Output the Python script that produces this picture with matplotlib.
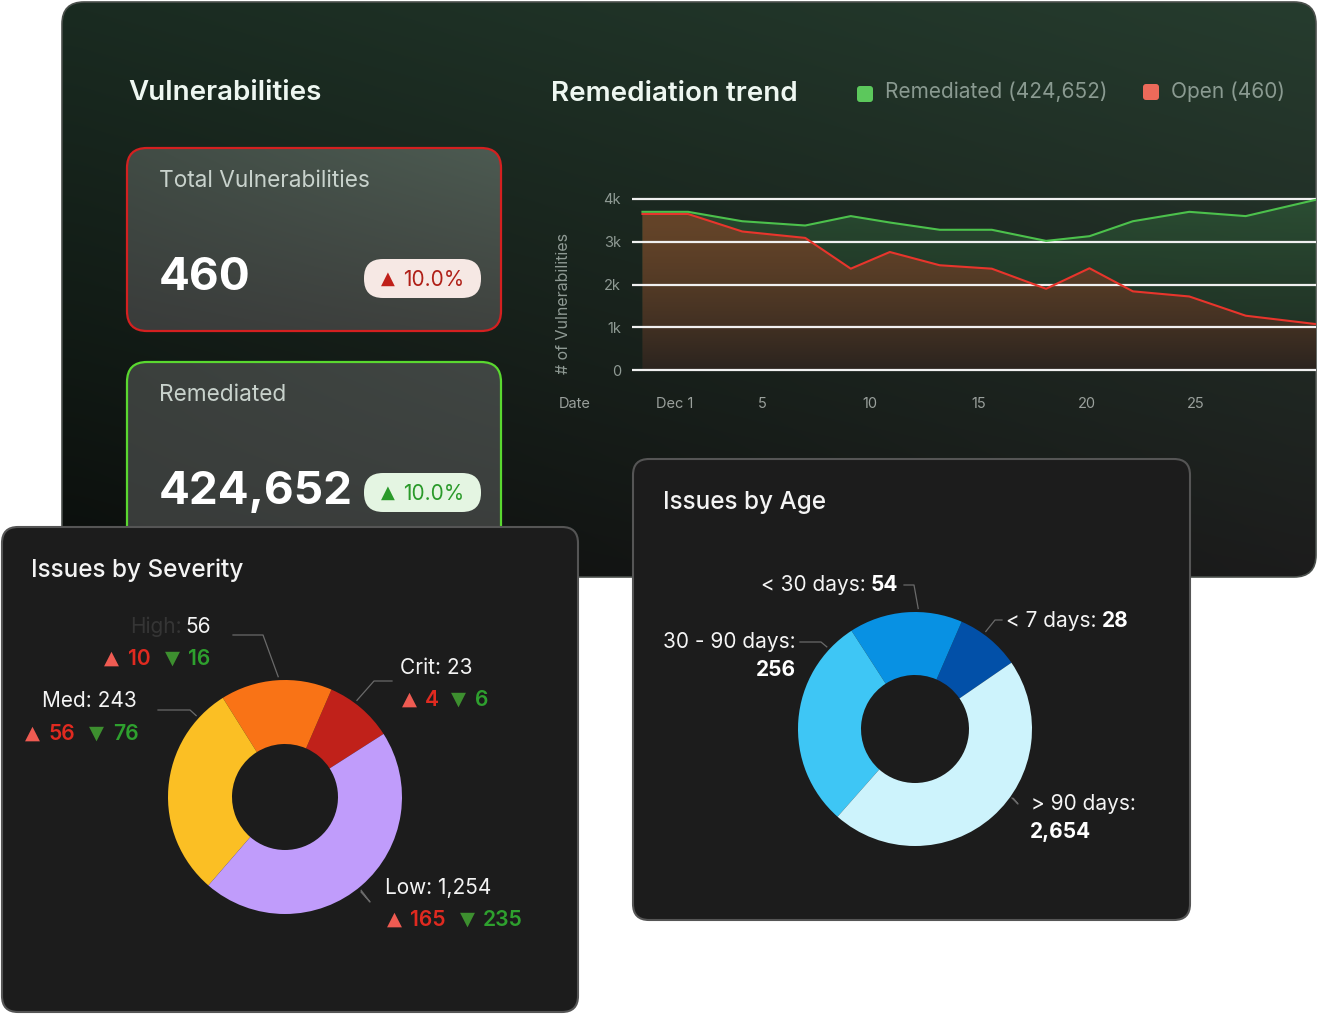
import numpy as np
import matplotlib
matplotlib.use('Agg')
import matplotlib.pyplot as plt
from matplotlib.patches import FancyBboxPatch, Polygon
from matplotlib.colors import to_rgb

W, H = 1330, 1014
plt.rcParams['font.family'] = ['Inter', 'DejaVu Sans']

# ---------------- data ----------------
trend_days = [-0.5, 1.6, 4.1, 7.0, 9.1, 10.9, 13.2, 15.6, 18.1, 20.1, 22.1, 24.7, 27.3, 30.6]
remediated_trend = [3700, 3700, 3480, 3380, 3600, 3450, 3280, 3280, 3020, 3130, 3480, 3700, 3600, 3990]
open_trend = [3650, 3650, 3240, 3090, 2370, 2760, 2450, 2370, 1900, 2380, 1840, 1720, 1270, 1070]
x_tick_days = [1, 5, 10, 15, 20, 25]
x_tick_labels = ['Dec 1', '5', '10', '15', '20', '25']
y_ticks = [0, 1000, 2000, 3000, 4000]
y_tick_labels = ['0', '1k', '2k', '3k', '4k']

total_vulns = '460'
remediated_total = '424,652'
total_change = '10.0%'
remediated_change = '10.0%'
legend_labels = ['Remediated (424,652)', 'Open (460)']

sev_names = ['Crit', 'High', 'Med', 'Low']
sev_counts = [23, 56, 243, 1254]
sev_up = [4, 10, 56, 165]
sev_down = [6, 16, 76, 235]
sev_arc_share = [34.0, 55.5, 107.0, 163.5]   # slice sizes as drawn (degrees)
sev_colors = ['#c0211a', '#f97316', '#fbbf24', '#c09cfb']

age_names = ['< 7 days', '< 30 days', '30 - 90 days', '> 90 days']
age_counts = [28, 54, 256, 2654]
age_arc_share = [32.0, 56.4, 105.7, 166.0]  # slice sizes as drawn (degrees)
age_colors = ['#0250a8', '#0891e3', '#3ec6f5', '#cdf3fc']

# ---------------- figure ----------------
fig = plt.figure(figsize=(W / 100, H / 100), dpi=100)
fig.patch.set_facecolor('white')


def full_axes(z):
    a = fig.add_axes([0, 0, 1, 1], zorder=z)
    a.set_xlim(0, W)
    a.set_ylim(H, 0)
    a.axis('off')
    a.patch.set_alpha(0)
    return a


def rbox(ax, x0, y0, x1, y1, r, fc, ec='none', lw=0, z=1):
    p = FancyBboxPatch((x0, y0), x1 - x0, y1 - y0,
                       boxstyle=f"round,pad=0,rounding_size={r}",
                       fc=fc, ec=ec, lw=lw, zorder=z)
    ax.add_patch(p)
    return p


def grad_img(tl, tr, bl, br, n=64):
    tl, tr, bl, br = [np.array(to_rgb(c)) for c in (tl, tr, bl, br)]
    u = np.linspace(0, 1, n)[None, :, None]
    v = np.linspace(0, 1, n)[:, None, None]
    top = tl * (1 - u) + tr * u
    bot = bl * (1 - u) + br * u
    return top * (1 - v) + bot * v


def gbox(ax, x0, y0, x1, y1, r, cols, ec='none', lw=0, z=1):
    p = rbox(ax, x0, y0, x1, y1, r, 'none', ec, lw, z + 0.1)
    clip = rbox(ax, x0, y0, x1, y1, r, 'none', 'none', 0, z)
    im = ax.imshow(grad_img(*cols), extent=[x0, x1, y1, y0], aspect='auto',
                   interpolation='bicubic', zorder=z)
    im.set_clip_path(clip)
    return p


def txt(ax, x, y, s, size, color='white', weight='normal', ha='left', va='center', z=6, **kw):
    return ax.text(x, y, s, fontsize=size, color=color, fontweight=weight,
                   ha=ha, va=va, zorder=z, **kw)


# ---------- background layer ----------
bg = full_axes(0)
gbox(bg, 62, 2, 1316, 577, 22, ('#1a2b21', '#263c2e', '#0b0e0c', '#1c1c1c'),
     ec='#4a4f4b', lw=1.2, z=1)

txt(bg, 128, 93, 'Vulnerabilities', 20, '#eef7f1', 'semibold')
txt(bg, 551, 94, 'Remediation trend', 20, '#eef7f1', 'semibold')

# legend
rbox(bg, 857, 86, 873, 102, 3, '#5cc85c', z=3)
txt(bg, 885, 92, legend_labels[0], 15, '#8a9a91')
rbox(bg, 1143, 84, 1159, 100, 3, '#ec6a5a', z=3)
txt(bg, 1171, 92, legend_labels[1], 15, '#8a9a91')

# card 1
gbox(bg, 127, 148, 501, 331, 20, ('#414c45', '#4c5a51', '#3a3c3b', '#3f423f'),
     ec='#d42020', lw=1.6, z=3)
txt(bg, 159, 181, 'Total Vulnerabilities', 16.3, '#c8d2cc')
txt(bg, 159, 278, total_vulns, 33, '#ffffff', 'bold')
rbox(bg, 364, 259, 481, 298, 19, '#f6e8e4', z=5)
txt(bg, 388, 279, '▲', 13, '#c0201a', family='DejaVu Sans', ha='center')
txt(bg, 403, 280, total_change, 15, '#b02018')

# card 2
gbox(bg, 127, 362, 501, 600, 20, ('#3b403d', '#404643', '#383a39', '#393b3a'),
     ec='#5ad830', lw=1.6, z=3)
txt(bg, 159, 395, 'Remediated', 16.3, '#c8d2cc')
txt(bg, 159, 492, remediated_total, 33, '#ffffff', 'bold')
rbox(bg, 364, 473, 481, 512, 19, '#e4f5e2', z=5)
txt(bg, 388, 493, '▲', 13, '#2a9a2a', family='DejaVu Sans', ha='center')
txt(bg, 403, 494, remediated_change, 15, '#2a9a2a')

txt(bg, 564, 303, '# of Vulnerabilities', 11.5, '#8f9a94', rotation=90, ha='center')
txt(bg, 575, 404, 'Date', 10.5, '#9aa09c', ha='center')

# ---------- trend chart ----------
ax_l, ax_r, ax_t, ax_b = 632, 1316, 180, 380
tr = fig.add_axes([ax_l / W, 1 - ax_b / H, (ax_r - ax_l) / W, (ax_b - ax_t) / H], zorder=1)
tr.patch.set_alpha(0)
px_per_unit = (370 - 199) / 4000
px_per_day = 21.7
XLIM = (1 - (675 - ax_l) / px_per_day, 1 + (ax_r - 675) / px_per_day)
YLIM = (-(380 - 370) / px_per_unit, 4000 + (199 - 180) / px_per_unit)


def grad_fill(ax, xs, ys, top_rgba, bot_rgba, z, gamma=1.0):
    verts = [(xs[0], 0)] + list(zip(xs, ys)) + [(xs[-1], 0)]
    poly = Polygon(verts, closed=True, fc='none', ec='none')
    ax.add_patch(poly)
    t = np.array(top_rgba)
    b = np.array(bot_rgba)
    v = (np.linspace(0, 1, 128) ** gamma)[:, None, None]
    img = t * (1 - v) + b * v
    img = np.repeat(img, 2, axis=1)
    im = ax.imshow(img, extent=[xs[0], xs[-1], 0, 4000], aspect='auto',
                   origin='upper', interpolation='bicubic', zorder=z)
    im.set_clip_path(poly)


grad_fill(tr, trend_days, remediated_trend, (0.20, 0.40, 0.24, 0.55), (0.12, 0.22, 0.15, 0.35), 1)
grad_fill(tr, trend_days, open_trend, (0.40, 0.27, 0.16, 1.0), (0.17, 0.14, 0.12, 1.0), 1.5, gamma=1.6)
tr.set_xlim(*XLIM)
tr.set_ylim(*YLIM)

for yv in y_ticks:
    tr.axhline(yv, color='#f0f0f0', lw=1.6, zorder=2)
tr.plot(trend_days, remediated_trend, color='#4cc14c', lw=1.5, zorder=3)
tr.plot(trend_days, open_trend, color='#e8352c', lw=1.5, zorder=3)

tr.set_yticks(y_ticks)
tr.set_yticklabels(y_tick_labels)
tr.set_xticks(x_tick_days)
tr.set_xticklabels(x_tick_labels)
tr.tick_params(axis='y', length=0, pad=8, labelsize=10.5, labelcolor='#8f9a94')
tr.tick_params(axis='x', length=0, pad=12, labelsize=10.5, labelcolor='#9aa09c')
for s in tr.spines.values():
    s.set_visible(False)

# ---------- lower panels ----------
ov = full_axes(2)
rbox(ov, 2, 527, 578, 1012, 16, '#1c1c1c', '#555555', 1.5, z=1)
rbox(ov, 633, 459, 1190, 920, 16, '#1c1c1c', '#555555', 1.5, z=1)
txt(ov, 31, 570, 'Issues by Severity', 17.5, '#f4f4f4', 'medium')
txt(ov, 663, 502, 'Issues by Age', 17.5, '#f4f4f4', 'medium')

R_OUT = 117


def donut(cx, cy, r_in, shares, colors, start):
    a = fig.add_axes([(cx - R_OUT) / W, 1 - (cy + R_OUT) / H, 2 * R_OUT / W, 2 * R_OUT / H], zorder=3)
    wedges, _ = a.pie(shares, colors=colors, startangle=start, counterclock=True, radius=1,
                      wedgeprops=dict(width=1 - r_in / R_OUT, linewidth=0))
    a.set_xlim(-1, 1)
    a.set_ylim(-1, 1)
    a.axis('off')
    return wedges


def leader(cx, cy, wedge, frac, p_text, p_elbow):
    ang = np.deg2rad(wedge.theta1 + frac * (wedge.theta2 - wedge.theta1))
    tip = (cx + R_OUT * 1.03 * np.cos(ang), cy - R_OUT * 1.03 * np.sin(ang))
    ov.plot([p_text[0], p_elbow[0], tip[0]], [p_text[1], p_elbow[1], tip[1]],
            color='#6a6a6a', lw=0.9, zorder=2)


# severity donut
scx, scy = 285, 797
sw = donut(scx, scy, 53, sev_arc_share, sev_colors, 32.6)

RED_T, RED_N, GRN_T, GRN_N = '#ef5b52', '#e02a20', '#3d8f2f', '#2ea02e'
LBL = 15


def delta_row(y, xr, xrn, xg, xgn, up, down):
    txt(ov, xr, y, '▲', 14, RED_T, family='DejaVu Sans', ha='center')
    txt(ov, xrn, y + 1, str(up), 15.2, RED_N, 'semibold')
    txt(ov, xg, y, '▼', 14, GRN_T, family='DejaVu Sans', ha='center')
    txt(ov, xgn, y + 1, str(down), 15.2, GRN_N, 'semibold')


# Crit
txt(ov, 400, 668, f'{sev_names[0]}: {sev_counts[0]:,}', LBL, '#f4f4f4')
delta_row(699, 409, 425, 458, 475, sev_up[0], sev_down[0])
leader(scx, scy, sw[0], 0.61, (392, 681), (374, 681))
# High
txt(ov, 211, 627, f'{sev_counts[1]:,}', LBL, '#f4f4f4', ha='right')
txt(ov, 182, 627, f'{sev_names[1]}:', LBL, '#353535', ha='right')
delta_row(658, 111, 128, 172, 188, sev_up[1], sev_down[1])
leader(scx, scy, sw[1], 0.48, (233, 635), (263, 635))
# Med
txt(ov, 137, 701, f'{sev_names[2]}: {sev_counts[2]:,}', LBL, '#f4f4f4', ha='right')
delta_row(733, 32, 49, 96, 113, sev_up[2], sev_down[2])
leader(scx, scy, sw[2], 0.144, (158, 710), (190, 710))
# Low
txt(ov, 385, 888, f'{sev_names[3]}: {sev_counts[3]:,}', LBL, '#f4f4f4')
delta_row(919, 394, 410, 467, 483, sev_up[3], sev_down[3])
leader(scx, scy, sw[3], 0.49, (361, 892), (370, 902))

# age donut
acx, acy = 915, 729
aw = donut(acx, acy, 54, age_arc_share, age_colors, 34.5)
ALB = 15

# < 7 days
txt(ov, 1097, 621, f'{age_names[0]}:', ALB, '#f4f4f4', ha='right')
txt(ov, 1102, 621, f'{age_counts[0]:,}', ALB, '#ffffff', 'bold')
leader(acx, acy, aw[0], 0.61, (1002, 620), (995, 620))
# < 30 days
txt(ov, 866, 585, f'{age_names[1]}:', ALB, '#f4f4f4', ha='right')
txt(ov, 871, 585, f'{age_counts[1]:,}', ALB, '#ffffff', 'bold')
leader(acx, acy, aw[1], 0.39, (904, 585), (914, 585))
# 30 - 90 days
txt(ov, 796, 642, f'{age_names[2]}:', ALB, '#f4f4f4', ha='right')
txt(ov, 796, 670, f'{age_counts[2]:,}', ALB, '#ffffff', 'bold', ha='right')
leader(acx, acy, aw[2], 0.134, (800, 642), (821, 642))
# > 90 days
txt(ov, 1031, 804, f'{age_names[3]}:', ALB, '#f4f4f4')
txt(ov, 1030, 832, f'{age_counts[3]:,}', ALB, '#ffffff', 'bold')
leader(acx, acy, aw[3], 0.58, (1012, 798), (1018, 804))

fig.savefig('out.png', dpi=100, facecolor='white')
